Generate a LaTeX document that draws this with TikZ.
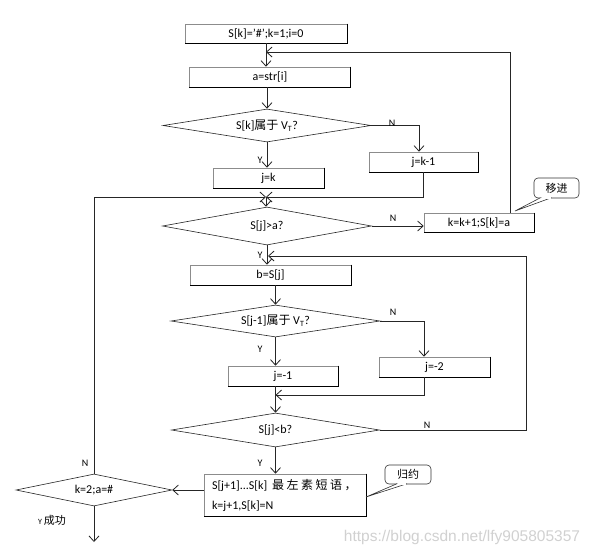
\documentclass[tikz,border=0pt]{standalone}
\usepackage{fontspec}
\setmainfont{Carlito}
\newfontfamily\cjk{Noto Sans CJK SC}
\newfontfamily\wmfont{Liberation Sans}
\usetikzlibrary{shapes.geometric,arrows.meta,calc}
\begin{document}
\begin{tikzpicture}[x=1pt,y=-1pt,
  proc/.style={rectangle,draw=black!45,line width=0.6pt,inner sep=0pt,font=\fontsize{12}{14}\selectfont},
  dec/.style={diamond,draw=black!85,line width=0.6pt,inner sep=0pt,aspect=6,font=\fontsize{12}{14}\selectfont},
  conn/.style={draw=black!85,line width=0.7pt,-{Straight Barb[length=5.5pt,width=10pt,line width=0.8pt]}},
  line/.style={draw=black!85,line width=0.7pt},
  lbl/.style={inner sep=0pt,font=\fontsize{10}{12}\selectfont},
  callout/.style={rectangle,rounded corners=4pt,draw=black!80,line width=0.6pt,fill=white,inner sep=0pt,font=\cjk\fontsize{11}{13}\selectfont}
]
\useasboundingbox (0,0) rectangle (592,555);
\fill[white] (0,0) rectangle (592,555);

% nodes
\node[proc,minimum width=162pt,minimum height=19pt] (b1) at (266,33.5) {S[k]=’\#’;k=1;i=0};
\node[proc,minimum width=161pt,minimum height=20pt] (b2) at (270,77) {a=str[i]};
\node[dec,minimum width=208pt,minimum height=33pt] (d1) at (267,125.5) {S[k]{\cjk 属于} V\textsubscript{T}?};
\node[proc,minimum width=109pt,minimum height=20pt] (jk1) at (423.5,162) {j=k-1};
\node[proc,minimum width=111pt,minimum height=20pt] (jk) at (268.5,178) {j=k};
\node[dec,minimum width=209pt,minimum height=38pt] (d2) at (267,226) {S[j]>a?};
\node[proc,minimum width=110pt,minimum height=19pt] (kk) at (479,222.5) {k=k+1;S[k]=a};
\node[callout,minimum width=45pt,minimum height=20pt] (c1) at (556.5,188) {移进};
\node[proc,minimum width=161pt,minimum height=20pt] (b3) at (270.5,275) {b=S[j]};
\node[dec,minimum width=209pt,minimum height=32pt] (d3) at (275.5,321) {S[j-1]{\cjk 属于} V\textsubscript{T}?};
\node[proc,minimum width=111pt,minimum height=20pt] (jm2) at (434.5,367) {j=-2};
\node[proc,minimum width=110pt,minimum height=20pt] (jm1) at (283,376) {j=-1};
\node[dec,minimum width=208pt,minimum height=34pt] (d4) at (275.5,430) {S[j]<b?};
\node[proc,minimum width=162pt,minimum height=42pt,align=left,text width=146pt,
      font=\fontsize{12}{20}\selectfont] (b5) at (285,495)
      {S[j+1]...S[k]\hspace{5pt}{\cjk 最\hspace{2.5pt}左\hspace{2.5pt}素\hspace{2.5pt}短\hspace{2.5pt}语\hspace{2.5pt}，}\\k=j+1,S[k]=N};
\node[callout,minimum width=46pt,minimum height=19pt] (c2) at (408,474.5) {归约};
\node[dec,minimum width=156pt,minimum height=32pt] (d5) at (94,490) {k=2;a=\#};

% shadow edges of process boxes
\foreach \n in {b1,b2,jk1,jk,kk,b3,jm2,jm1,b5}
  \draw[black,line width=0.8pt] (\n.north east) -- (\n.south east) -- (\n.south west);

% coordinates
\coordinate (J0) at (266,52);
\coordinate (J1) at (266,197);
\coordinate (J2) at (268,256);
\coordinate (L4) at (526,256);
\coordinate (J3) at (275.5,395);
\coordinate (Out) at (94,542);
\coordinate (t1) at (515,211);
\coordinate (t2) at (366,497);

% connectors
\draw[conn] (b1.south) -- (b1.south |- b2.north);
\draw[conn] ($(kk.north)+(31,0)$) |- (J0);
\draw[conn] (b2.south -| d1.north) -- (d1.north);
\draw[conn] (d1.south) -- (d1.south |- jk.north);
\draw[conn] (d1.east) -| ($(jk1.north)+(-4.5,0)$);
\draw[conn] (jk1.south) |- (J1);
\draw[conn] (d5.north) |- (J1);
\draw[conn] (J1) -- (J1 |- d2.north);
\draw[conn] (d2.east) -- (d2.east -| kk.west);
\draw[conn] (d2.south) -- (d2.south |- b3.north);
\draw[line] (d4.east) -| (L4);
\draw[conn] (L4) -- (J2);
\draw[conn] (b3.south -| d3.north) -- (d3.north);
\draw[conn] (d3.south) -- (d3.south |- jm1.north);
\draw[conn] (d3.east) -| ($(jm2.north)+(-10.5,0)$);
\draw[conn] ($(jm2.south)+(-10.5,0)$) |- (J3);
\draw[conn] (d3.south |- jm1.south) -- (d4.north);
\draw[conn] (d4.south) -- (d4.south |- b5.north);
\draw[conn] (b5.west |- d5.east) -- (d5.east);
\draw[conn] (d5.south) -- (Out);

% callout pointers
\filldraw[fill=white,draw=black!80,line width=0.6pt] ($(c1.south)+(-16,-0.6)$) -- (t1) -- ($(c1.south)+(-5,-0.6)$);
\fill[white] ($(c1.south)+(-15,-1.2)$) rectangle ($(c1.south)+(-6,1)$);
\filldraw[fill=white,draw=black!80,line width=0.6pt] ($(c2.south)+(-11,-0.6)$) -- (t2) -- ($(c2.south)+(-1,-0.6)$);
\fill[white] ($(c2.south)+(-10,-1.2)$) rectangle ($(c2.south)+(-2,1)$);

% labels
\node[lbl] (n1) at (392,123) {N};
\node[lbl] (y1) at (260,160) {Y};
\node[lbl] (n2) at (393,218) {N};
\node[lbl] (y2) at (260,255) {Y};
\node[lbl] (n3) at (393,312) {N};
\node[lbl] (y3) at (260,349) {Y};
\node[lbl] (n4) at (427,425) {N};
\node[lbl] (y4) at (260,463) {Y};
\node[lbl] (n5) at (85,463) {N};
\node[lbl] (y5) at (52,520) {\fontsize{8}{10}\selectfont Y {\cjk\fontsize{11}{13}\selectfont 成功}};

% watermark
\node[inner sep=0pt,text=black!18,font=\wmfont\fontsize{15.5}{17}\selectfont] (wm) at (462,537) {https://blog.csdn.net/lfy905805357};
\end{tikzpicture}
\end{document}
